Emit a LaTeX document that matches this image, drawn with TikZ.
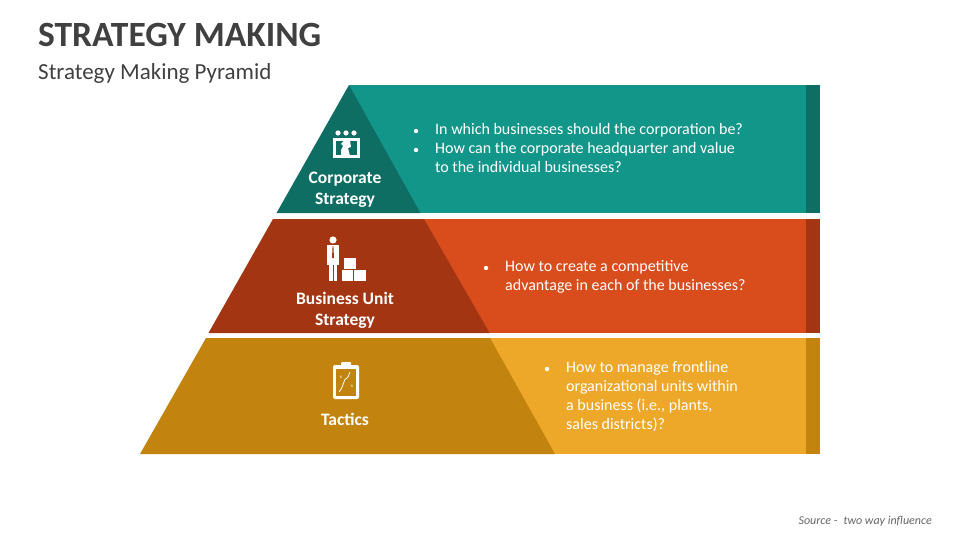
\documentclass[tikz,border=0pt]{standalone}
\usepackage{fontspec}
\setmainfont{Carlito}
\begin{document}
\begin{tikzpicture}[x=1pt,y=-1pt,
  txt/.style={text=white,font=\fontsize{16}{19.2}\selectfont,align=left,anchor=north west,inner sep=0pt},
  lbl/.style={text=white,font=\bfseries\fontsize{17.5}{21}\selectfont,align=center,inner sep=0pt},
  blt/.style={fill=white,circle,inner sep=0pt,minimum size=4.4pt},
  ico/.style={fill=white,draw=none}]
\definecolor{tl}{HTML}{13968A}\definecolor{td}{HTML}{0E6E64}
\definecolor{ol}{HTML}{D94C1C}\definecolor{od}{HTML}{A33512}
\definecolor{yl}{HTML}{EDA82A}\definecolor{yd}{HTML}{C2840F}
\useasboundingbox (0,0) rectangle (960,540);
\node[anchor=west,inner sep=0pt,font=\bfseries\fontsize{35.5}{40}\selectfont,text=black!75] (title) at (38,35) {STRATEGY MAKING};
\node[anchor=west,inner sep=0pt,font=\fontsize{23}{26}\selectfont,text=black!75] (sub) at (38,73) {Strategy Making Pyramid};
% bands
\fill[tl] (349,85) rectangle (820,213);
\fill[td] (806,85) rectangle (820,213);
\fill[td] (349,85) -- (276.5,213) -- (420.4,213) -- cycle;
\fill[ol] (400,219) rectangle (820,333);
\fill[od] (806,219) rectangle (820,333);
\fill[od] (273,219) -- (208.5,333) -- (489.6,333) -- (424,219) -- cycle;
\fill[yl] (480,338) rectangle (820,454);
\fill[yd] (806,338) rectangle (820,454);
\fill[yd] (206,338) -- (140,454) -- (555,454) -- (490,338) -- cycle;
% labels
\node[lbl] (l1) at (345,190) {Corporate\\Strategy};
\node[lbl] (l2) at (345,310) {Business Unit\\Strategy};
\node[lbl] (l3) at (345,419) {Tactics};
% texts
\node[blt] (b1) at (416,131) {};
\node[blt] (b2) at (416,150) {};
\node[txt] (t1) at (435,123) {In which businesses should the corporation be?\\How can the corporate headquarter and value\\to the individual businesses?};
\node[blt] (b3) at (486,268) {};
\node[txt] (t2) at (505,260) {How to create a competitive\\advantage in each of the businesses?};
\node[blt] (b4) at (547,369) {};
\node[txt] (t3) at (566,361) {How to manage frontline\\organizational units within\\a business (i.e., plants,\\sales districts)?};
% icon 1: team with chess knight
\foreach \x in {338,346,354} {\fill[ico] (\x,133) circle (2.6);}
\fill[ico] (333,138) rectangle (360,158);
\fill[td] (336,141) rectangle (357,155);
\fill[ico] (341,156) -- (341,150) -- (343,146) -- (341,144) -- (345,139) -- (350,141) -- (351,147) -- (348,148) -- (350,156) -- cycle;
% icon 2: person with boxes
\fill[ico] (333,240) circle (3.6);
\fill[ico] (327,245) rectangle (339,265);
\fill[ico] (329,265) rectangle (332.5,281);
\fill[ico] (333.5,265) rectangle (337,281);
\fill[od] (332.6,246) -- (333.4,246) -- (334,258) -- (332,258) -- cycle;
\fill[ico] (344,258) rectangle (356,269);
\fill[ico] (342,270) rectangle (353,281);
\fill[ico] (354,270) rectangle (366,281);
% icon 3: clipboard
\fill[ico,rounded corners=2pt] (333,365) rectangle (359,399);
\fill[yd] (336,369) rectangle (356,396);
\fill[ico,rounded corners=1pt] (341,362) rectangle (351,368);
\draw[white,line width=0.8pt] (339,392) .. controls (345,385) and (342,380) .. (348,377) -- (350,372);
\node[text=white,font=\tiny,inner sep=0pt] (xa) at (341,377) {x};
\node[text=white,font=\tiny,inner sep=0pt] (xb) at (352,386) {x};
% source
\node[anchor=east,inner sep=0pt,font=\itshape\fontsize{12}{14}\selectfont,text=black!60] (src) at (932,521) {Source -\enspace two way influence};
\end{tikzpicture}
\end{document}
